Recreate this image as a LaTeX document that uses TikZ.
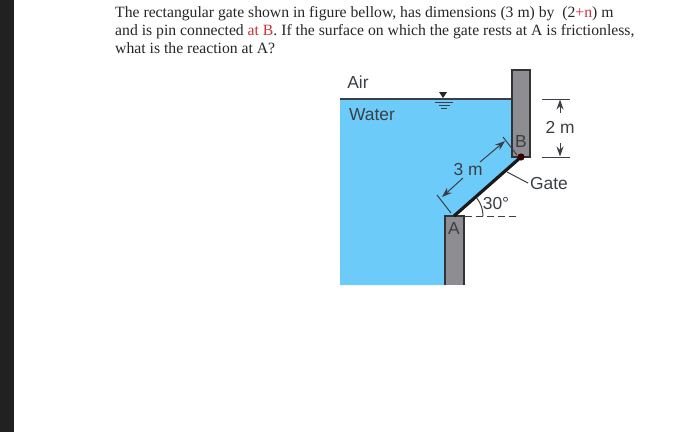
\documentclass[tikz,border=0pt]{standalone}
\usepackage{fontspec}
\setmainfont{Liberation Serif}
\newfontfamily\labelfont{Liberation Sans}
\usetikzlibrary{arrows.meta}
\definecolor{waterblue}{HTML}{6CCBF8}
\definecolor{wallgray}{HTML}{8E8E92}
\definecolor{inkgray}{HTML}{3A3F45}
\definecolor{pinred}{HTML}{C8343A}
\tikzset{
  questionline/.style={anchor=base west,inner sep=0pt,font=\fontsize{15.7}{17}\selectfont,text=black!85},
  figlabel/.style={inner sep=0pt,font=\labelfont\fontsize{17.4}{19}\selectfont,text=inkgray},
  wallbar/.style={draw=black!80,line width=1.5pt,fill=wallgray},
  thinline/.style={draw=inkgray,line width=1pt},
  dimarrow/.style={thinline,-{Stealth[length=10pt,width=7pt]}}
}
\begin{document}
\begin{tikzpicture}[x=1pt,y=-1pt]
\useasboundingbox (0,0) rectangle (700,432);

% The dark edge of the screenshot
\fill[black!87] (0,0) rectangle (14,432);

% The question
\node[questionline] (lineone) at (115,17) {The rectangular gate shown in figure bellow, has dimensions (3 m) by \ (2\textcolor{pinred}{+n}) m};
\node[questionline] (linetwo) at (115,35) {and is pin connected \textcolor{pinred}{at B}. If the surface on which the gate rests at A is frictionless,};
\node[questionline] (linethree) at (115,53) {what is the reaction at A?};

\coordinate (pinB) at (521,157);
\coordinate (pinA) at (454,216);

% The water
\fill[waterblue] (340,99) -- (512,99) -- (512,157) -- (pinB) -- (pinA) -- (445,216) -- (445,285) -- (340,285) -- cycle;
\draw[inkgray,line width=1.3pt] (340,99) -- (512,99);

% The walls
\draw[wallbar] (512,157) -- (512,70) -- (530,70) -- (530,157) -- cycle;
\draw[wallbar] (445,285) -- (445,216) -- (464,216) -- (464,285);

% The gate
\draw[black!90,line width=3.2pt] (pinA) -- (pinB);
\fill[black!80!red] (pinB) circle (3.6);

% The free surface mark
\fill[black!85] (443,98) -- (439,92) -- (447,92) -- cycle;
\foreach \y/\halfw in {102/9,105/5.5,108/3}{
  \draw[inkgray,line width=0.9pt] (444-\halfw,\y) -- (444+\halfw,\y);
}

% The 2 m dimension
\coordinate (dimtopL) at (542,99);
\coordinate (dimtopR) at (570,99);
\coordinate (dimbotL) at (542,157);
\coordinate (dimbotR) at (570,157);
\draw[thinline] (dimtopL) -- (dimtopR);
\draw[thinline] (dimbotL) -- (dimbotR);
\node[figlabel] (twom) at (560,127) {2 m};
\coordinate (uptail) at (560,113);
\coordinate (uptip) at (560,99.5);
\coordinate (downtail) at (560,143);
\coordinate (downtip) at (560,156.5);
\draw[dimarrow] (uptail) -- (uptip);
\draw[dimarrow] (downtail) -- (downtip);

% The 3 m dimension
\coordinate (extBa) at (503,137);
\coordinate (extBb) at (517,155);
\coordinate (extAa) at (437,195);
\coordinate (extAb) at (451,213);
\draw[thinline] (extBa) -- (extBb);
\draw[thinline] (extAa) -- (extAb);
\node[figlabel] (threem) at (468,170) {3 m};
\coordinate (tailB) at (480,162);
\coordinate (tipB) at (505,141);
\coordinate (tailA) at (463,178);
\coordinate (tipA) at (442,197);
\draw[dimarrow] (tailB) -- (tipB);
\draw[dimarrow] (tailA) -- (tipA);

% The angle
\coordinate (dashend) at (517,216);
\draw[inkgray,line width=0.9pt,dash pattern=on 7pt off 4pt] (465,216) -- (dashend);
\draw[thinline] (483,216) arc[start angle=0,end angle=-38,radius=29];
\node[figlabel] (angle) at (496,204) {30\textdegree};

% The labels
\node[figlabel] (air) at (358,82) {Air};
\node[figlabel] (water) at (372,115) {Water};
\node[figlabel] (labelB) at (521,142) {B};
\node[figlabel] (labelA) at (454,229) {A};
\node[figlabel] (gate) at (549,184) {Gate};
\coordinate (gatefoot) at (507,172);
\draw[thinline,shorten >=2pt] (gatefoot) -- (gate.west);
\end{tikzpicture}
\end{document}
